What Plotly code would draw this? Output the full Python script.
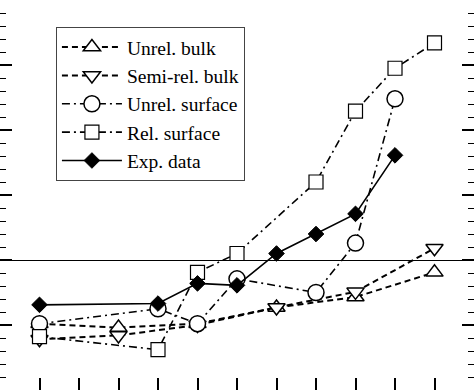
import plotly.graph_objects as go

# Data
x_unrel_bulk = [1, 3, 5, 7, 9, 11]
y_unrel_bulk = [-0.98, -1.04, -0.98, -0.73, -0.57, -0.19]

x_semi_bulk = [1, 3, 5, 7, 9, 11]
y_semi_bulk = [-1.22, -1.16, -1.00, -0.73, -0.49, 0.18]

x_unrel_surf = [1, 4, 5, 6, 8, 9, 10]
y_unrel_surf = [-0.98, -0.75, -0.98, -0.29, -0.50, 0.26, 2.48]

x_rel_surf = [1, 4, 5, 6, 8, 9, 10, 11]
y_rel_surf = [-1.18, -1.38, -0.19, 0.10, 1.20, 2.29, 2.95, 3.34]

x_exp = [1, 4, 5, 6, 7, 8, 9, 10]
y_exp = [-0.69, -0.67, -0.36, -0.39, 0.10, 0.40, 0.71, 1.61]

names = ["Unrel. bulk", "Semi-rel. bulk", "Unrel. surface", "Rel. surface", "Exp. data"]

SERIF = "Liberation Serif, Times New Roman, DejaVu Serif, serif"

fig = go.Figure()


def open_marker(sym, size, lw):
    return dict(symbol=sym, size=size, color="white", line=dict(color="black", width=lw))


fig.add_trace(go.Scatter(x=x_unrel_bulk, y=y_unrel_bulk, name=names[0], mode="lines+markers",
                         line=dict(color="black", width=2, dash="6px,4px"),
                         marker=open_marker("triangle-up", 15, 1.5)))
fig.add_trace(go.Scatter(x=x_semi_bulk, y=y_semi_bulk, name=names[1], mode="lines+markers",
                         line=dict(color="black", width=2, dash="6px,4px"),
                         marker=open_marker("triangle-down", 15, 1.5)))
fig.add_trace(go.Scatter(x=x_unrel_surf, y=y_unrel_surf, name=names[2], mode="lines+markers",
                         line=dict(color="black", width=1.6, dash="8px,4px,2px,4px"),
                         marker=open_marker("circle", 16, 1.5)))
fig.add_trace(go.Scatter(x=x_rel_surf, y=y_rel_surf, name=names[3], mode="lines+markers",
                         line=dict(color="black", width=1.6, dash="8px,4px,2px,4px"),
                         marker=open_marker("square", 14, 1.2)))
fig.add_trace(go.Scatter(x=x_exp, y=y_exp, name=names[4], mode="lines+markers",
                         line=dict(color="black", width=1.6),
                         marker=dict(symbol="diamond", size=12, color="black",
                                     line=dict(color="black", width=1))))

fig.update_layout(
    width=474, height=390, autosize=False,
    margin=dict(l=0, r=0, t=0, b=0, pad=0),
    plot_bgcolor="white", paper_bgcolor="white",
    font=dict(family=SERIF, color="black"),
    legend=dict(x=0.118, y=0.931, xanchor="left", yanchor="top",
                bgcolor="white", bordercolor="#444", borderwidth=1,
                font=dict(family=SERIF, size=19.5, color="black"),
                itemwidth=60, tracegroupgap=0),
)

fig.update_xaxes(range=[0, 12], showgrid=False, zeroline=False, showline=False,
                 showticklabels=False, ticks="inside", tick0=0, dtick=1,
                 ticklen=12, tickwidth=1.5, tickcolor="black", mirror=False)
fig.update_yaxes(range=[-2, 4], showgrid=False, showline=False,
                 zeroline=True, zerolinecolor="black", zerolinewidth=1.3,
                 showticklabels=False, ticks="inside", tick0=0, dtick=1,
                 ticklen=12, tickwidth=1.5, tickcolor="black", mirror="ticks",
                 minor=dict(ticks="inside", dtick=0.2, ticklen=6, tickwidth=1.3,
                            tickcolor="black", showgrid=False))

fig.write_html("out.html")
